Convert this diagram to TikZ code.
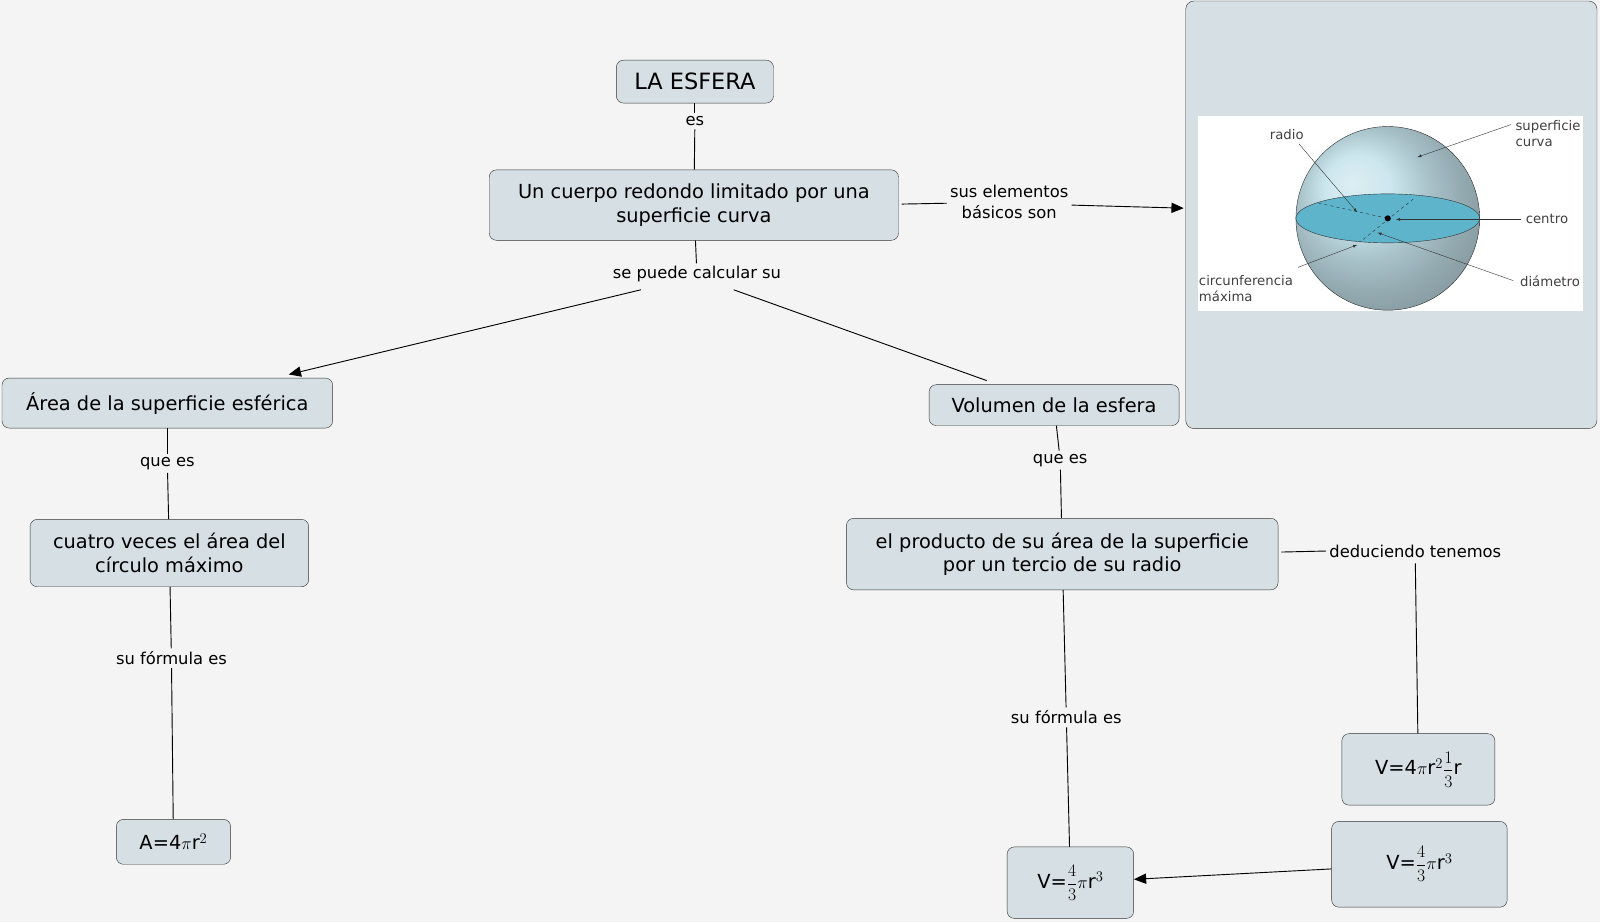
\documentclass[tikz,border=0pt]{standalone}
\usepackage{fontspec}
\usepackage{amsmath}
\setmainfont{DejaVu Sans}
\usetikzlibrary{arrows.meta}
\definecolor{bx}{HTML}{D6DFE3}
\definecolor{bg}{HTML}{F4F4F4}
\definecolor{sph}{HTML}{A8D6E2}
\definecolor{eq}{HTML}{5DB4CB}
\begin{document}
\begin{tikzpicture}[x=1pt,y=-1pt,
 box/.style={draw=black!80,fill=bx,rounded corners=7pt,align=center,font=\fontsize{19}{23}\selectfont,inner sep=0pt},
 lab/.style={font=\fontsize{16}{20}\selectfont,align=center,inner sep=3pt},
 sl/.style={font=\fontsize{13}{16}\selectfont\color{black!75},align=left,inner sep=1pt},
 ln/.style={line width=0.9pt},
 ar/.style={ln,-{Triangle[length=12pt,width=10pt]}}]
\fill[bg] (0,0) rectangle (1568,904);
\useasboundingbox (0,0) rectangle (1568,904);
% panel
\draw[black!80,fill=bx,rounded corners=8pt] (1162,1) rectangle (1565,420);
\node[minimum width=0pt] (panel) at (1363,210) {};
\coordinate (pw) at (1160,204);
\fill[white] (1174,114) rectangle (1551,305);
\shade[ball color=sph!60!white, opacity=1] (1360,214) circle (90);
\fill[sph!70!white,opacity=0.5] (1360,214) circle (90);
\draw[black!80] (1360,214) circle (90);
\filldraw[fill=eq,draw=black!80] (1360,214) ellipse (90 and 24);
\draw[dashed,black!80] (1292,199) -- (1360,214);
\draw[dashed,black!80] (1385,195) -- (1333,237);
\fill (1360,214) circle (3);
\node[sl] (r) at (1261,132) {radio};
\node[sl] (sc) at (1517,131) {superficie\\curva};
\node[sl] (ce) at (1516,215) {centro};
\node[sl] (di) at (1519,276) {diámetro};
\node[sl] (cm) at (1221,283) {circunferencia\\máxima};
\draw[-latex,black!80] (1273,141) -- (1330,208);
\draw[-latex,black!80] (1481,122) -- (1389,154);
\draw[-latex,black!80] (1491,215) -- (1368,215);
\draw[-latex,black!80] (1483,275) -- (1350,228);
\draw[-latex,black!80] (1272,262) -- (1330,240);
% nodes
\node[box,minimum width=154pt,minimum height=42pt,font=\fontsize{22}{26}\selectfont] (esf) at (681,80) {LA ESFERA};
\node[box,minimum width=401pt,minimum height=69pt] (cu) at (680,201) {Un cuerpo redondo limitado por una\\superficie curva};
\node[box,minimum width=324pt,minimum height=49pt] (ar) at (164,395) {Área de la superficie esférica};
\node[box,minimum width=245pt,minimum height=40pt] (vo) at (1033,397) {Volumen de la esfera};
\node[box,minimum width=273pt,minimum height=66pt] (c4) at (166,542) {cuatro veces el área del\\círculo máximo};
\node[box,minimum width=423pt,minimum height=70pt] (pr) at (1041,543) {el producto de su área de la superficie\\por un tercio de su radio};
\node[box,minimum width=112pt,minimum height=44pt] (fa) at (170,825) {A=4$\pi$r$^{2}$};
\node[box,minimum width=124pt,minimum height=70pt] (fv) at (1049,865) {V=$\dfrac{4}{3}\pi$r$^{3}$};
\node[box,minimum width=150pt,minimum height=70pt] (fd) at (1390,754) {V=4$\pi$r$^{2}\dfrac{1}{3}$r};
\node[box,minimum width=172pt,minimum height=84pt] (fr) at (1391,847) {V=$\dfrac{4}{3}\pi$r$^{3}$};
% labels
\node[lab] (l1) at (681,119) {es};
\node[lab] (l2) at (989,198) {sus elementos\\básicos son};
\node[lab] (l3) at (683,269) {se puede calcular su};
\node[lab] (l4) at (164,454) {que es};
\node[lab] (l5) at (1039,451) {que es};
\node[lab] (l6) at (168,645) {su fórmula es};
\node[lab] (l7) at (1045,703) {su fórmula es};
\node[lab] (l8) at (1387,540) {deduciendo tenemos};
% connectors
\draw[ln] (esf) -- (l1); \draw[ln] (l1) -- (cu);
\draw[ln] (cu.east) ++(3,-1) -- (l2);
\draw[ar] (l2.east) ++(0,3) -- (pw);
\draw[ln] (cu) -- (l3);
\draw[ar] (628,284) -- (283,367);
\draw[ln] (719,284) -- (967,373);
\draw[ln] (ar) -- (l4); \draw[ln] (l4) -- (c4);
\draw[ln] (vo) -- (l5); \draw[ln] (l5) -- (pr);
\draw[ln] (c4) -- (l6); \draw[ln] (l6) -- (fa);
\draw[ln] (pr) -- (l7); \draw[ln] (l7) -- (fv);
\draw[ln] (pr.east) ++(3,-2) -- (l8.west);
\draw[ln] (1387,552) -- (fd);
\draw[ar] (fr) -- (fv);
\end{tikzpicture}
\end{document}
